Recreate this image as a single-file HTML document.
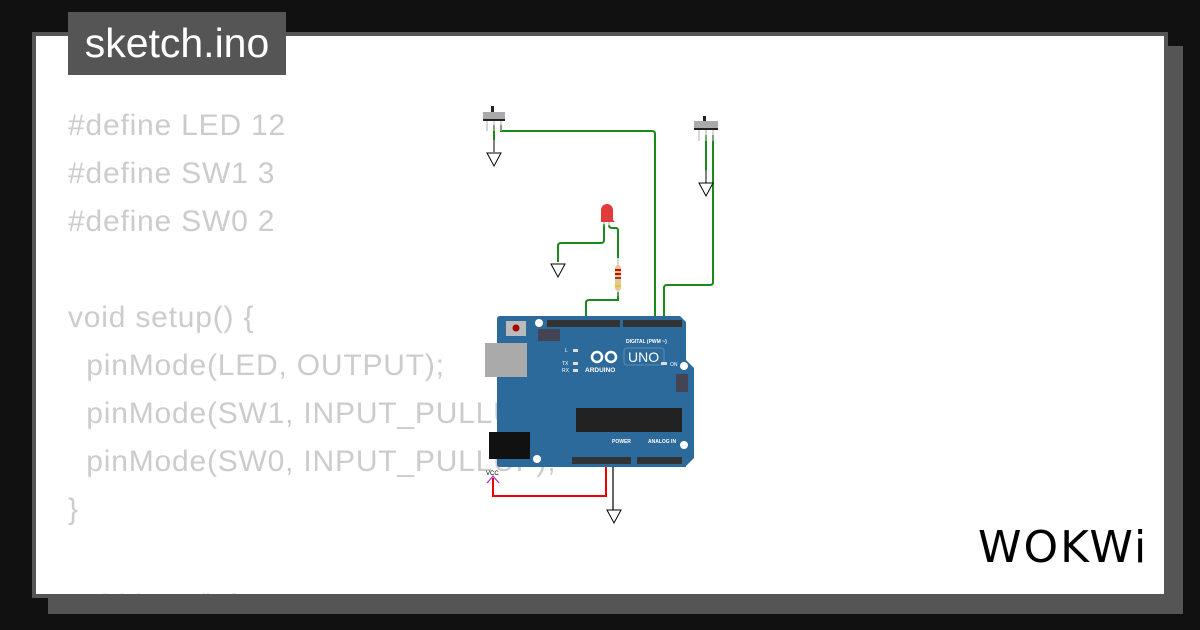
<!DOCTYPE html>
<html><head><meta charset="utf-8"><style>
html,body{margin:0;padding:0;background:#111;width:1200px;height:630px;overflow:hidden;position:relative;font-family:"Liberation Sans",sans-serif}
.sh{position:absolute;left:48px;top:46px;width:1135px;height:568px;background:#555}
.fr{position:absolute;left:32px;top:32px;width:1136px;height:566px;background:#555}
.wh{position:absolute;left:36px;top:36px;width:1128px;height:558px;background:#fff;overflow:hidden}
.code{position:absolute;left:32px;top:66px;color:#ccc;font-size:30px;letter-spacing:0.8px;line-height:48px;white-space:pre}
.lab{position:absolute;left:68px;top:12px;width:218px;height:63px;background:#555;color:#fff;font-size:41px;line-height:63px;text-align:center}
.logo{position:absolute;left:978px;top:522px;font-size:44px;color:#000;letter-spacing:2px;font-family:"DejaVu Sans",sans-serif}
svg{position:absolute;left:0;top:0}
</style></head><body>
<div class="sh"></div><div class="fr"></div>
<div class="wh"><div class="code">#define LED 12
#define SW1 3
#define SW0 2

void setup() {
  pinMode(LED, OUTPUT);
  pinMode(SW1, INPUT_PULLUP);
  pinMode(SW0, INPUT_PULLUP);
}

void loop() {</div></div>
<div class="lab">sketch.ino</div>
<svg width="1200" height="630" viewBox="0 0 1200 630">
<g fill="none" stroke-width="2">
<path d="M501 125 V131 H652 Q655 131 655 134 V322" stroke="#1a8a1a"/>
<path d="M494 125 V140" stroke="#1a8a1a"/>
<path d="M494 140 V152" stroke="#000" stroke-width="1"/>
<path d="M713 135 V282 Q713 285 710 285 H667 Q664 285 664 288 V322" stroke="#1a8a1a"/>
<path d="M706 135 V170" stroke="#1a8a1a"/>
<path d="M706 170 V183" stroke="#000" stroke-width="1"/>
<path d="M604 224 V240 Q604 243 601 243 H561 Q558 243 558 246 V262" stroke="#1a8a1a"/>
<path d="M609 225 Q609 228 612 228 H616 Q618 228 618 231 V258" stroke="#1a8a1a"/>
<path d="M586 322 V303 Q586 300 589 300 H618 V292" stroke="#1a8a1a"/>
<path d="M606 462 V496 H493 V478" stroke="#e00"/>
<path d="M613 462 V510" stroke="#000" stroke-width="1.2"/>
</g>
<g fill="#fff" stroke="#000" stroke-width="1">
<path d="M487 153 H501 L494 166 Z"/>
<path d="M699 183 H713 L706 196 Z"/>
<path d="M551 264 H565 L558 277 Z"/>
<path d="M607 510 H621 L614 523 Z"/>
</g>
<path d="M487 483 L493 476 L499 483" fill="none" stroke="#a030c0" stroke-width="1.2"/>
<text x="486" y="475" font-size="6" fill="#000">VCC</text>
<rect x="483" y="112" width="22" height="9" fill="#aaa"/><rect x="491" y="106" width="3" height="6" fill="#222"/>
<rect x="483" y="119" width="22" height="2" fill="#222"/>
<path d="M487 121 V131 M494 121 V131 M501 121 V131" stroke="#bbb" stroke-width="1.2"/>
<rect x="694" y="121" width="24" height="9" fill="#aaa"/><rect x="703" y="116" width="3" height="5" fill="#222"/>
<rect x="694" y="128" width="24" height="2" fill="#222"/>
<path d="M699 130 V141 M706 130 V141 M713 130 V141" stroke="#bbb" stroke-width="1.2"/>
<path d="M604 222 V226 M609 222 V226" stroke="#aaa"/>
<path d="M601 222 V210 A6 6 0 0 1 613 210 V220 L615 222 Z" fill="#e23b3b"/>
<path d="M618 258 V266 M618 290 V296" stroke="#aaa"/>
<rect x="615" y="265" width="6" height="26" rx="3" fill="#e0c89a"/>
<rect x="615" y="269" width="6" height="2" fill="#d00"/><rect x="615" y="273" width="6" height="2" fill="#d00"/><rect x="615" y="277" width="6" height="2" fill="#8b4513"/><rect x="615" y="285" width="6" height="2" fill="#e8c020"/>
<path d="M500 316 H680 L686 322 V360 L694 368 V458 L686 466 V467 H500 Q497 467 497 464 V319 Q497 316 500 316 Z" fill="#2b6a9a"/>
<rect x="485" y="343" width="42" height="34" fill="#aaa"/><rect x="489" y="432" width="41" height="27" fill="#111"/>
<rect x="506" y="321" width="20" height="15" fill="#bbb"/><circle cx="516" cy="328" r="3.5" fill="#a00"/>
<circle cx="539" cy="323" r="4" fill="#fff"/><circle cx="537" cy="459" r="4" fill="#fff"/><circle cx="684" cy="366" r="4" fill="#fff"/><circle cx="684" cy="445" r="4" fill="#fff"/>
<rect x="547" y="320" width="73" height="7" fill="#333"/><rect x="623" y="320" width="59" height="7" fill="#333"/>
<rect x="572" y="457" width="59" height="7" fill="#333"/><rect x="637" y="457" width="45" height="7" fill="#333"/>
<rect x="576" y="408" width="106" height="24" fill="#222"/>
<rect x="538" y="329" width="22" height="12" fill="#445"/><rect x="676" y="374" width="12" height="18" fill="#445"/>
<circle cx="597" cy="357" r="5" fill="none" stroke="#fff" stroke-width="2.5"/><circle cx="611" cy="357" r="5" fill="none" stroke="#fff" stroke-width="2.5"/>
<rect x="624" y="348" width="40" height="17" rx="3" fill="none" stroke="#5c8cb4"/>
<text x="628" y="362" font-size="14" fill="#fff">UNO</text>
<text x="585" y="372" font-size="6.5" fill="#fff" font-weight="bold">ARDUINO</text>
<text x="626" y="343" font-size="5" fill="#fff" font-weight="bold">DIGITAL (PWM ~)</text>
<text x="612" y="443" font-size="5" fill="#fff" font-weight="bold">POWER</text>
<text x="648" y="443" font-size="5" fill="#fff" font-weight="bold">ANALOG IN</text>
<text x="565" y="352" font-size="5" fill="#fff">L</text><text x="562" y="365" font-size="5" fill="#fff">TX</text><text x="562" y="372" font-size="5" fill="#fff">RX</text>
<rect x="573" y="349" width="5" height="3" fill="#ddd"/><rect x="573" y="362" width="5" height="3" fill="#ddd"/><rect x="573" y="369" width="5" height="3" fill="#ddd"/><rect x="661" y="362" width="6" height="3" fill="#ddd"/>
<text x="670" y="366" font-size="5" fill="#fff">ON</text>
</svg>
<div class="logo">WOKWi</div>
</body></html>
